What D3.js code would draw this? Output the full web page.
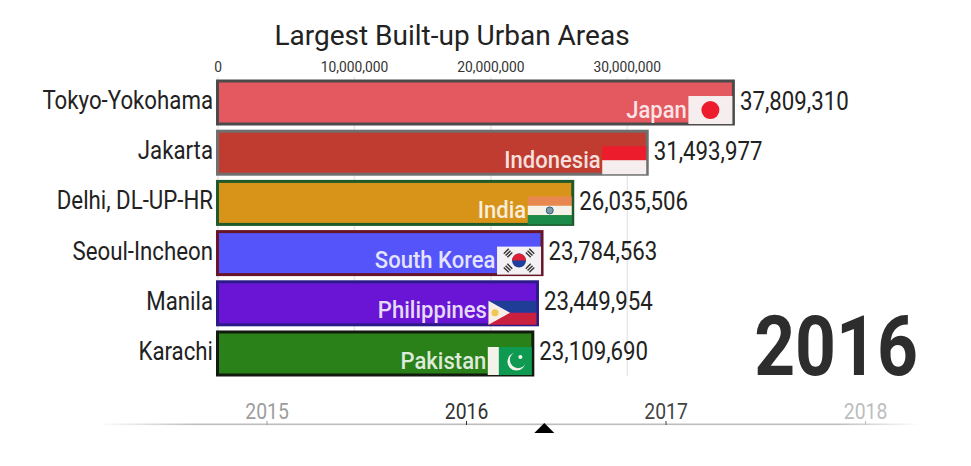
<!DOCTYPE html>
<html><head><meta charset="utf-8">
<script src="https://cdn.jsdelivr.net/npm/d3@7"></script>
<style>html,body{margin:0;background:#fff}svg{display:block}text{font-family:Roboto,sans-serif}</style>
</head><body><svg id="c" width="971" height="466"></svg>
<script>
const cities=["Tokyo-Yokohama","Jakarta","Delhi, DL-UP-HR","Seoul-Incheon","Manila","Karachi"];
const countries=["Japan","Indonesia","India","South Korea","Philippines","Pakistan"];
const populations=[37809310,31493977,26035506,23784563,23449954,23109690];
const fills=["#e4585f","#c13c30","#d89418","#5454fa","#6a15d6","#2a8119"];
const strokes=["#4b4b4b","#6f6f6f","#1f5a2b","#691528","#2b1b88","#131a10"];
const axisTicks=[0,10000000,20000000,30000000];
const years=[2015,2016,2017,2018];
const yearColors=["#9d9d9d","#333","#444","#bdbdbd"];
const currentYear=2016.39;

const svg=d3.select("#c");
const x=d3.scaleLinear().domain([0,38000000]).range([217.5,736]);
const y=d3.scaleBand().domain(cities).range([81,375]).paddingInner(0.143).paddingOuter(0);
const t=d3.scaleLinear().domain([2015,2018]).range([267,865.5]);
const fmt=d3.format(",");
const defs=svg.append("defs");
const fade=defs.append("linearGradient").attr("id","fade");
[[0,0],[.12,1],[.9,1],[1,0]].forEach(d=>fade.append("stop").attr("offset",d[0]).attr("stop-color","#bdbdbd").attr("stop-opacity",d[1]));

function cond(g,tx,ty,str,size,anchor,color,sx,weight){
  return g.append("text").attr("transform",`translate(${tx},${ty}) scale(${sx},1)`)
   .attr("text-anchor",anchor).attr("font-size",size).attr("fill",color).attr("font-weight",weight||400).text(str);
}
cond(svg,452,45,"Largest Built-up Urban Areas",28,"middle","#222",1,400);

const ax=svg.append("g").attr("transform","translate(0,77)")
 .call(d3.axisTop(x).tickValues(axisTicks).tickFormat(fmt).tickSize(-299).tickPadding(5));
ax.select(".domain").remove();
ax.selectAll("line").attr("stroke","#e8e8e8").attr("stroke-width",1.5);
ax.selectAll("text").attr("font-size",15).attr("fill","#333").attr("transform","scale(.92,1)");

cities.forEach((c,i)=>{
 const v=populations[i],y0=y(c),h=y.bandwidth(),xe=x(v);
 const g=svg.append("g");
 g.append("rect").attr("x",x(0)).attr("y",y0).attr("width",xe-x(0)).attr("height",h)
  .attr("fill",fills[i]).attr("stroke",strokes[i]).attr("stroke-width",3);
 cond(g,x(0)-4.5,y0+h/2+6.5,c,25,"end","#222",.89);
 cond(g,xe+6.5,y0+h/2+7,fmt(v),25,"start","#222",.89);
 const phil=countries[i]==="Philippines";
 const fw=phil?48:44,fh=phil?24:28,fx=xe-fw-1,fy=y0+h-fh;
 cond(g,fx-1.5,y0+h-6.5,countries[i],24,"end","rgba(255,255,255,.85)",.92,500);
 const f=g.append("g").attr("transform",`translate(${fx},${fy})`);
 drawFlag(f,countries[i],fw,fh);
});
function R(f,a,b,w,h,col){return f.append("rect").attr("x",a).attr("y",b).attr("width",w).attr("height",h).attr("fill",col);}
function drawFlag(f,n,w,h){
 if(n==="Japan"){R(f,0,0,w,h,"#f6eeee");f.append("circle").attr("cx",w/2).attr("cy",h/2).attr("r",9).attr("fill","#ec1c2c");}
 if(n==="Indonesia"){R(f,0,0,w,h/2,"#ec1c2c");R(f,0,h/2,w,h/2,"#f6eeee");}
 if(n==="India"){R(f,0,0,w,h/3,"#e8874f");R(f,0,h/3,w,h/3,"#f6f2ea");R(f,0,2*h/3,w,h/3,"#1c8a48");
  f.append("circle").attr("cx",w/2).attr("cy",h/2).attr("r",3.5).attr("fill","#7e9aa6").attr("stroke","#2d5f80");}
 if(n==="South Korea"){R(f,0,0,w,h,"#f4f1f4");
  f.append("circle").attr("cx",w/2).attr("cy",h/2).attr("r",7).attr("fill","#1f3f9c");
  f.append("path").attr("d",`M${w/2-7},${h/2}A7,7 0 0 1 ${w/2+7},${h/2}Z`).attr("fill","#dc1f34");
  [[-11,-7.5,-45],[11,-7.5,45],[-11,7.5,45],[11,7.5,-45]].forEach(d=>
   f.append("g").attr("transform",`translate(${w/2+d[0]},${h/2+d[1]}) rotate(${d[2]})`)
    .selectAll("rect").data([-2.5,0,2.5]).join("rect").attr("x",-3.5).attr("y",b=>b-.7).attr("width",7).attr("height",1.4).attr("fill","#333"));}
 if(n==="Philippines"){R(f,0,0,w,h/2,"#1f3d96");R(f,0,h/2,w,h/2,"#c9203f");
  f.append("path").attr("d",`M0,0L${h*.9},${h/2}L0,${h}Z`).attr("fill","#f5efe8");
  f.append("circle").attr("cx",6.5).attr("cy",h/2).attr("r",3.5).attr("fill","#f3c652");}
 if(n==="Pakistan"){R(f,0,0,w,h,"#0f9a52");R(f,0,0,w/4,h,"#f3f3ea");
  f.append("circle").attr("cx",w*.65).attr("cy",h*.52).attr("r",9).attr("fill","#f3f3ea");
  f.append("circle").attr("cx",w*.69).attr("cy",h*.46).attr("r",8.3).attr("fill","#0f9a52");
  f.append("circle").attr("cx",w*.74).attr("cy",h*.36).attr("r",2).attr("fill","#f3f3ea");}
}
cond(svg,918,375,"2016",84,"end","#2d2d2d",.85,700);

svg.append("rect").attr("x",98).attr("y",423.5).attr("width",822).attr("height",1.6).attr("fill","url(#fade)");
const yg=svg.append("g");
years.forEach((yr,i)=>{
 yg.append("line").attr("x1",t(yr)).attr("x2",t(yr)).attr("y1",421).attr("y2",425).attr("stroke",yearColors[i]);
 cond(yg,t(yr),418.5,yr,22,"middle",yearColors[i],.88);
});
const tx=t(currentYear);
svg.append("path").attr("d",d3.line()([[tx-10,433],[tx,423],[tx+10,433]])+"Z").attr("fill","#000");
</script></body></html>
